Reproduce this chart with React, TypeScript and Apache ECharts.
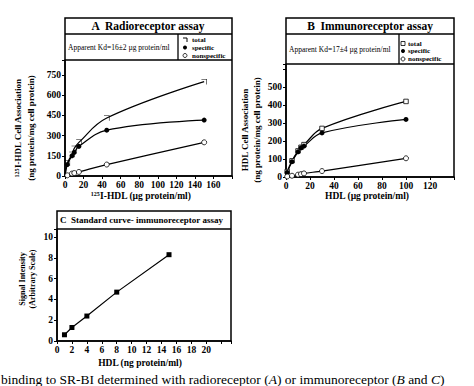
import React, { useEffect, useRef } from 'react';
import * as echarts from 'echarts';

// Panel A: radioreceptor assay (125I-HDL, µg protein/ml)
const aConc = [2.5, 7.5, 10, 15, 45, 150];
const aTotal = [95, 160, 205, 250, 430, 700];
const aSpecific = [85, 150, 175, 220, 340, 415];
const aNonspecific = [5, 18, 22, 30, 85, 250];

// Panel B: immunoreceptor assay (HDL, µg protein/ml)
const bConc = [1, 5, 10, 12.5, 15, 30, 100];
const bTotal = [30, 90, 145, 165, 180, 270, 420];
const bSpecific = [25, 85, 140, 162, 172, 245, 320];
const bNonspecific = [3, 7, 13, 16, 20, 33, 104];

// Panel C: standard curve (HDL, ng protein/ml)
const cConc = [1, 2, 4, 8, 15];
const cSignal = [0.6, 1.3, 2.4, 4.7, 8.3];

const FONT = 'Liberation Serif';

const pairs = (xs: number[], ys: number[], withOrigin: boolean) => {
  const d: any[] = xs.map((x, i) => [x, ys[i]]);
  if (withOrigin) d.unshift({ value: [0, 0], symbol: 'none' });
  return d;
};

const tickLabel = (max: number) => ({
  fontFamily: FONT,
  fontWeight: 'bold',
  fontSize: 9.5,
  color: '#000',
  margin: 4,
  formatter: (v: number) => (v > max + 1e-9 ? '' : String(v)),
});

const axisCommon = {
  axisLine: { show: true, lineStyle: { color: '#000', width: 1.5 } },
  axisTick: { show: true, inside: false, length: 3, lineStyle: { color: '#000', width: 1 } },
  splitLine: { show: false },
};

const txt = (x: number, y: number, text: string, size: number, opts: any = {}) => ({
  type: 'text',
  x,
  y,
  rotation: opts.rotation || 0,
  style: {
    text,
    fontFamily: FONT,
    fontWeight: opts.weight || 'bold',
    fontSize: size,
    fill: '#000',
    align: opts.align || 'left',
    verticalAlign: opts.vAlign || 'middle',
    rich: opts.rich,
  },
});

const ln = (x1: number, y1: number, x2: number, y2: number, w = 1.3) => ({
  type: 'line',
  shape: { x1, y1, x2, y2 },
  style: { stroke: '#000', lineWidth: w },
});

const box = (x: number, y: number, w: number, h: number) => ({
  type: 'rect',
  shape: { x, y, width: w, height: h },
  style: { fill: 'none', stroke: '#000', lineWidth: 1.5 },
});

const supRich = { s: { fontSize: 6, fontFamily: FONT, fontWeight: 'bold', verticalAlign: 'top' } };

const cornerSymbol = 'path://M0,0 L10,0 L10,10 L9,10 L9,1 L0,1 Z';

const openStyle = { color: '#fff', borderColor: '#000', borderWidth: 0.8 };

export default function App() {
  const ref = useRef<HTMLDivElement>(null);
  useEffect(() => {
    if (!ref.current) return;
    const chart = echarts.init(ref.current, undefined, { renderer: 'svg' });
    const lineStyle = { color: '#000', width: 1.2 };
    const option: any = {
      animation: false,
      backgroundColor: '#fff',
      grid: [
        { left: 65, top: 60, width: 167, height: 116 },
        { left: 286, top: 64, width: 168, height: 113 },
        { left: 57, top: 229, width: 174, height: 112 },
      ],
      xAxis: [
        { gridIndex: 0, type: 'value', min: 0, max: 180, interval: 20, axisLabel: tickLabel(160), ...axisCommon },
        { gridIndex: 1, type: 'value', min: 0, max: 140, interval: 20, axisLabel: tickLabel(120), ...axisCommon },
        { gridIndex: 2, type: 'value', min: 0, max: 23.3, interval: 2, axisLabel: tickLabel(20), ...axisCommon },
      ],
      yAxis: [
        { gridIndex: 0, type: 'value', min: 0, max: 861, interval: 150, axisLabel: tickLabel(750), ...axisCommon },
        { gridIndex: 1, type: 'value', min: 0, max: 628, interval: 100, axisLabel: tickLabel(500), ...axisCommon },
        { gridIndex: 2, type: 'value', min: 0, max: 10.77, interval: 2, axisLabel: tickLabel(10), ...axisCommon },
      ],
      series: [
        {
          type: 'line', xAxisIndex: 0, yAxisIndex: 0, smooth: 0.4, data: pairs(aConc, aTotal, true),
          symbol: cornerSymbol, symbolSize: 5.5, itemStyle: { color: '#000' }, lineStyle,
        },
        {
          type: 'line', xAxisIndex: 0, yAxisIndex: 0, smooth: 0.4, data: pairs(aConc, aSpecific, true),
          symbol: 'circle', symbolSize: 5, itemStyle: { color: '#000' }, lineStyle,
        },
        {
          type: 'line', xAxisIndex: 0, yAxisIndex: 0, smooth: 0.3, data: pairs(aConc, aNonspecific, true),
          symbol: 'circle', symbolSize: 5, itemStyle: openStyle, lineStyle,
        },
        {
          type: 'line', xAxisIndex: 1, yAxisIndex: 1, smooth: 0.4, data: pairs(bConc, bTotal, true),
          symbol: 'rect', symbolSize: 4.5, itemStyle: openStyle, lineStyle,
        },
        {
          type: 'line', xAxisIndex: 1, yAxisIndex: 1, smooth: 0.4, data: pairs(bConc, bSpecific, true),
          symbol: 'circle', symbolSize: 5, itemStyle: { color: '#000' }, lineStyle,
        },
        {
          type: 'line', xAxisIndex: 1, yAxisIndex: 1, smooth: 0.3, data: pairs(bConc, bNonspecific, true),
          symbol: 'circle', symbolSize: 5, itemStyle: openStyle, lineStyle,
        },
        {
          type: 'line', xAxisIndex: 2, yAxisIndex: 2, smooth: false, data: pairs(cConc, cSignal, false),
          symbol: 'rect', symbolSize: 5, itemStyle: { color: '#000' }, lineStyle,
        },
      ],
      graphic: [
        // Panel A frame
        box(65, 18, 167, 158),
        ln(65, 34, 232, 34),
        ln(65, 60, 232, 60),
        ln(178, 34, 178, 60),
        txt(148, 26, 'A  Radioreceptor assay', 11.5, { align: 'center' }),
        txt(68, 47, 'Apparent Kd=16±2 µg protein/ml', 7.5, { weight: 'normal' }),
        { type: 'polyline', shape: { points: [[183, 38], [187, 38], [187, 42]] }, style: { stroke: '#000', fill: 'none', lineWidth: 1 } },
        { type: 'circle', shape: { cx: 185, cy: 47.5, r: 2 }, style: { fill: '#000' } },
        { type: 'circle', shape: { cx: 185, cy: 55.5, r: 2 }, style: { fill: '#fff', stroke: '#000', lineWidth: 0.8 } },
        txt(192, 40, 'total', 7),
        txt(192, 47.5, 'specific', 7),
        txt(192, 55.5, 'nonspecific', 7),
        txt(18, 128, '{s|125}I-HDL Cell Association', 9, { align: 'center', rotation: Math.PI / 2, rich: supRich }),
        txt(31, 128, '(ng protein/mg cell protein)', 9, { align: 'center', rotation: Math.PI / 2 }),
        txt(141, 196, '{s|125}I-HDL (µg protein/ml)', 9.5, { align: 'center', rich: supRich }),

        // Panel B frame
        box(286, 18, 168, 159),
        ln(286, 34, 454, 34),
        ln(286, 64, 454, 64),
        ln(399, 34, 399, 64),
        txt(370, 26, 'B  Immunoreceptor assay', 11.5, { align: 'center' }),
        txt(289, 49, 'Apparent Kd=17±4 µg protein/ml', 7.5, { weight: 'normal' }),
        { type: 'rect', shape: { x: 401, y: 41.5, width: 4, height: 4 }, style: { fill: '#fff', stroke: '#000', lineWidth: 0.8 } },
        { type: 'circle', shape: { cx: 403, cy: 51, r: 2 }, style: { fill: '#000' } },
        { type: 'circle', shape: { cx: 403, cy: 59, r: 2 }, style: { fill: '#fff', stroke: '#000', lineWidth: 0.8 } },
        txt(408, 43.5, 'total', 7),
        txt(408, 51, 'specific', 7),
        txt(408, 59, 'nonspecific', 7),
        txt(245, 130, 'HDL Cell Association', 9, { align: 'center', rotation: Math.PI / 2 }),
        txt(257, 130, '(ng protein/mg cell protein)', 9, { align: 'center', rotation: Math.PI / 2 }),
        txt(367, 196, 'HDL (µg protein/ml)', 9.5, { align: 'center' }),

        // Panel C frame
        box(57, 211, 174, 130),
        ln(57, 229, 231, 229),
        txt(60, 220, 'C  Standard curve- immunoreceptor assay', 9),
        txt(22, 279, 'Signal Intensity', 8, { align: 'center', rotation: Math.PI / 2 }),
        txt(32, 279, '(Arbitrary Scale)', 8, { align: 'center', rotation: Math.PI / 2 }),
        txt(140, 363, 'HDL (ng protein/ml)', 9.5, { align: 'center' }),

        // Caption
        txt(1, 386, 'binding to SR-BI determined with radioreceptor ({i|A}) or immunoreceptor ({i|B} and {i|C})', 13.5, {
          weight: 'normal',
          vAlign: 'bottom',
          rich: { i: { fontStyle: 'italic', fontFamily: FONT, fontSize: 13.5 } },
        }),
      ],
    };
    chart.setOption(option);
    return () => chart.dispose();
  }, []);
  return (
    <div
      ref={ref}
      style={{ position: 'fixed', left: 0, top: 0, width: 474, height: 386, background: '#fff' }}
    />
  );
}
